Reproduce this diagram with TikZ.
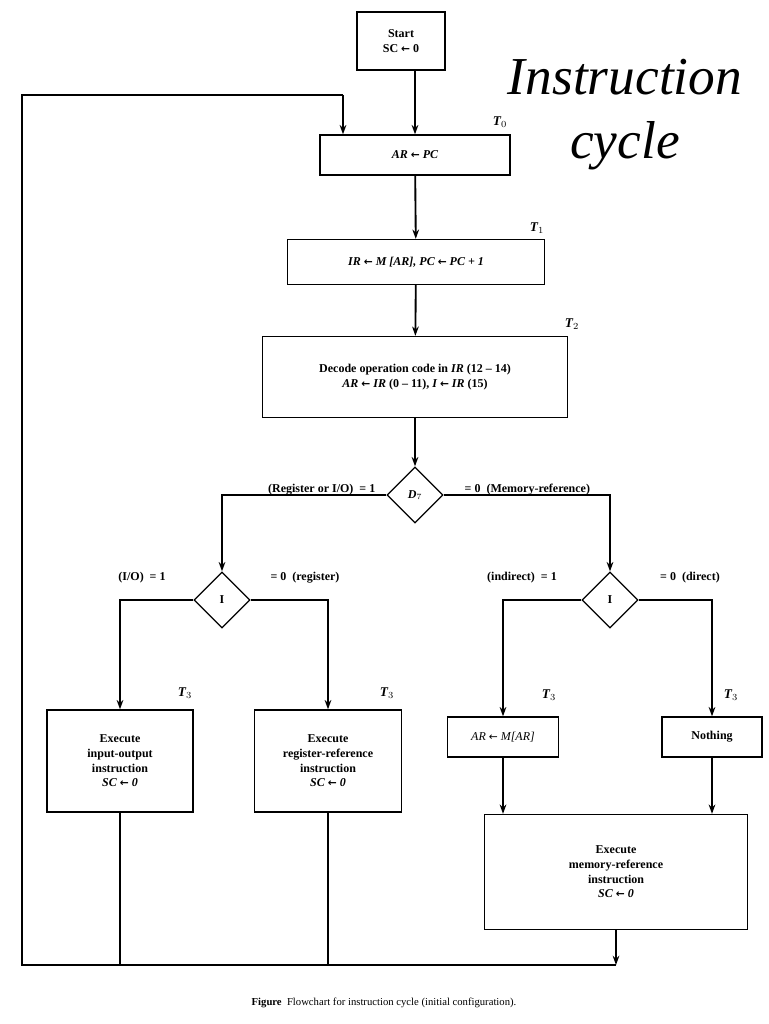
\documentclass[tikz,border=0pt]{standalone}
\usepackage{fontspec}
\setmainfont{Liberation Serif}
\newfontfamily\sym{DejaVu Sans}
\usetikzlibrary{shapes.geometric,arrows.meta}
\newcommand{\la}{{\sym\footnotesize ←}}
\begin{document}
\begin{tikzpicture}[x=0.75pt,y=-0.75pt,
  box/.style={draw,line width=1pt,align=center,font=\small\bfseries,inner sep=0pt},
  dia/.style={draw,line width=1pt,diamond,shape aspect=1,minimum size=56pt*0.75,inner sep=0pt,font=\small\bfseries},
  ln/.style={line width=1.4pt},
  ar/.style={ln,-{Stealth[length=7pt,width=5pt]}},
  lab/.style={font=\small\bfseries},
  tl/.style={font=\normalsize\itshape\bfseries}]
\useasboundingbox (0,0) rectangle (768,1024);
\node[box,minimum width=88*0.75pt,minimum height=58*0.75pt] (start) at (401,41) {Start\\ SC \la\ 0};
\node[font=\fontsize{40}{48}\selectfont\itshape,align=center] (title) at (625,115) {Instruction\\ cycle};
\node[box,minimum width=190*0.75pt,minimum height=40*0.75pt] (ar) at (415,155) {\itshape AR \la\ PC};
\node[tl] at (500,122) {T$_0$};
\node[box,minimum width=257*0.75pt,minimum height=45*0.75pt] (ir) at (416,262) {\itshape IR \la\ M [AR], PC \la\ PC + 1};
\node[tl] at (537,228) {T$_1$};
\node[box,minimum width=305*0.75pt,minimum height=81*0.75pt] (dec) at (415,377) {Decode operation code in \itshape IR \upshape(12 -- 14)\\ \itshape AR \la\ IR \upshape(0 -- 11), \itshape I \la\ IR \upshape(15)};
\node[tl] at (572,324) {T$_2$};
\node[dia] (d7) at (415,495) {\itshape D$_7$};
\node[lab,anchor=east] at (380,490) {(Register or I/O)\ \ = 1};
\node[lab,anchor=west] at (460,490) {= 0\ \ (Memory-reference)};
\node[dia] (i1) at (222,600) {I};
\node[dia] (i2) at (610,600) {I};
\node[lab] at (142,578) {(I/O)\ \ = 1};
\node[lab] at (305,578) {= 0\ \ (register)};
\node[lab] at (522,578) {(indirect)\ \ = 1};
\node[lab] at (690,578) {= 0\ \ (direct)};
\node[box,minimum width=146*0.75pt,minimum height=102*0.75pt] (io) at (120,761) {Execute\\ input-output\\ instruction\\ \itshape SC \la\ 0};
\node[box,minimum width=147*0.75pt,minimum height=102*0.75pt] (rr) at (328,761) {Execute\\ register-reference\\ instruction\\ \itshape SC \la\ 0};
\node[box,minimum width=111*0.75pt,minimum height=40*0.75pt,font=\small\itshape] (ind) at (503,737) {AR \la\ M[AR]};
\node[box,minimum width=100*0.75pt,minimum height=40*0.75pt] (noth) at (712,737) {Nothing};
\node[box,minimum width=263*0.75pt,minimum height=115*0.75pt] (mr) at (616,872) {Execute\\ memory-reference\\ instruction\\ \itshape SC \la\ 0};
\node[tl] at (185,693) {T$_3$};
\node[tl] at (387,693) {T$_3$};
\node[tl] at (549,695) {T$_3$};
\node[tl] at (731,695) {T$_3$};
\node[font=\footnotesize] (cap) at (384,1003) {\bfseries Figure\ \ \mdseries Flowchart for instruction cycle (initial configuration).};
\coordinate (b0) at (22,965);
\coordinate (b1) at (22,95);
\coordinate (b2) at (343,95);
\coordinate (b3) at (616,965);
\draw[ar] (start.south -| ar.north) -- (ar);
\draw[ar] (ar) -- (ir);
\draw[ar] (ir) -- (dec);
\draw[ar] (dec) -- (d7);
\draw[ar] (d7.west) -| (i1.north);
\draw[ar] (d7.east) -| (i2.north);
\draw[ar] (i1.west) -| (io.north);
\draw[ar] (i1.east) -| (rr.north);
\draw[ar] (i2.west) -| (ind.north);
\draw[ar] (i2.east) -| (noth.north);
\draw[ar] (ind.south) -- (ind.south |- mr.north);
\draw[ar] (noth.south) -- (noth.south |- mr.north);
\draw[ar] (mr.south) -- (b3);
\draw[ln] (b3) -- (b0) -- (b1) -- (b2);
\draw[ar] (b2) -- (b2 |- ar.north);
\draw[ln] (io.south) -- (io.south |- b0);
\draw[ln] (rr.south) -- (rr.south |- b0);
\end{tikzpicture}
\end{document}
